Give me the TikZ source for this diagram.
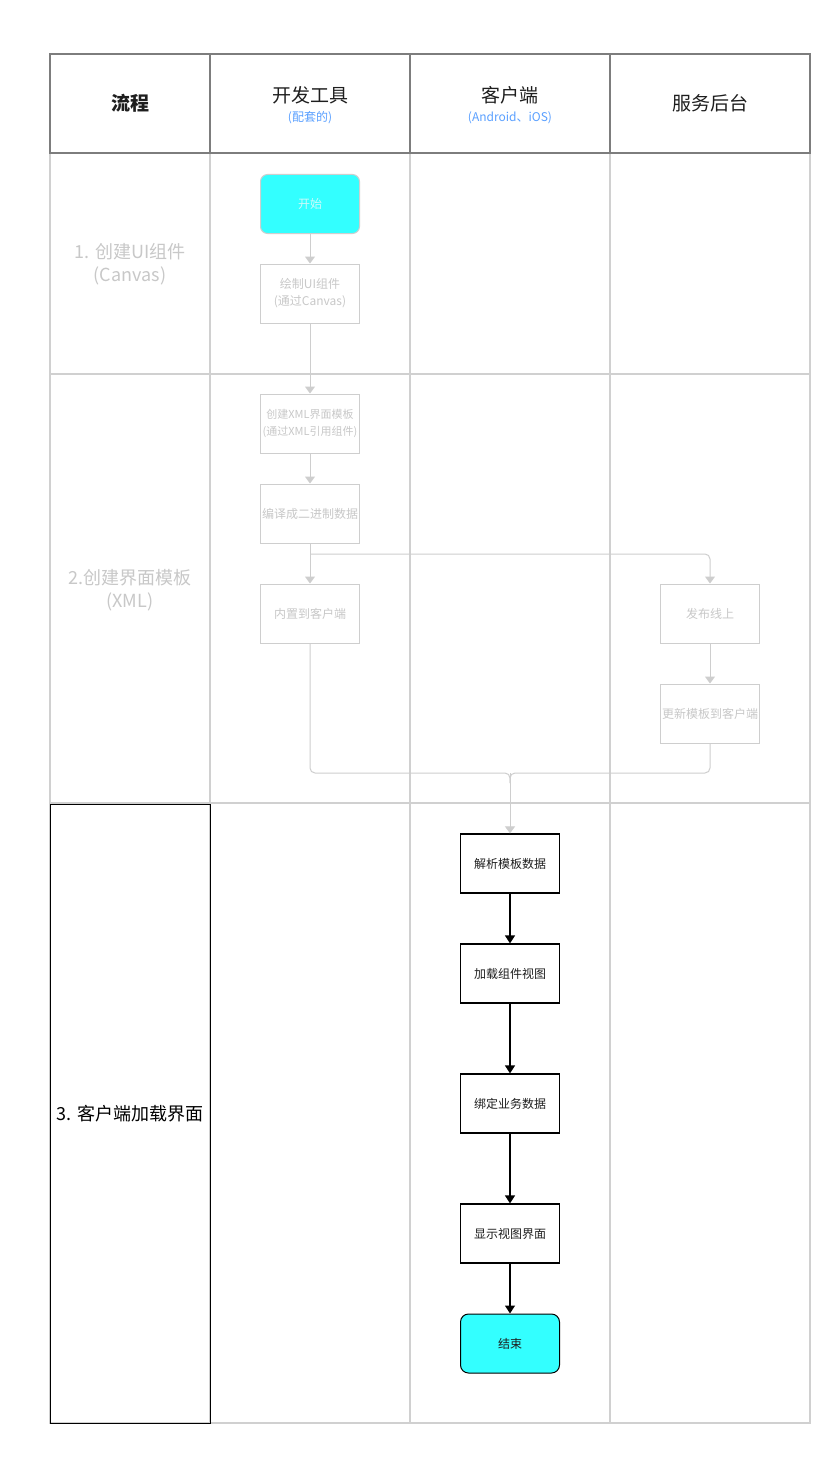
\documentclass[tikz,border=0pt]{standalone}
\usepackage{fontspec}
\setmainfont{Noto Sans CJK SC}
\usetikzlibrary{arrows.meta}
\definecolor{fade}{RGB}{206,206,206}
\definecolor{fadetext}{RGB}{200,200,200}
\definecolor{gridline}{RGB}{208,208,208}
\definecolor{hdrline}{RGB}{125,125,125}
\definecolor{cyanfill}{RGB}{51,255,255}
\definecolor{subblue}{RGB}{90,160,255}
\definecolor{hdrtext}{RGB}{30,30,30}
\definecolor{starttext}{RGB}{205,250,250}
\tikzset{
  fadebox/.style={draw=fade, line width=1pt, fill=white, minimum width=99pt, minimum height=59pt,
    inner sep=0pt, align=center, text=fadetext, font=\fontsize{12}{17}\selectfont},
  fadebox2/.style={fadebox, font=\fontsize{11}{17}\selectfont},
  startbox/.style={fadebox, rounded corners=7pt, fill=cyanfill, text=starttext, draw=fade},
  blackbox/.style={draw=black, line width=1.2pt, fill=white, minimum width=99pt, minimum height=59pt,
    inner sep=0pt, align=center, text=hdrtext, font=\fontsize{12}{14}\selectfont},
  endbox/.style={blackbox, rounded corners=8pt, fill=cyanfill, line width=1pt},
  fadearrow/.style={draw=fade, line width=1pt, -{Triangle[width=10pt,length=7pt]}},
  fadeline/.style={draw=fade, line width=1pt, rounded corners=5pt},
  blackarrow/.style={draw=black, line width=1.2pt, -{Triangle[width=10pt,length=8pt]}},
  hdr/.style={text=hdrtext, font=\fontsize{19}{22}\selectfont, inner sep=0pt},
  sub/.style={text=subblue, font=\fontsize{12}{14}\selectfont, inner sep=0pt},
  lanefade/.style={text=fadetext, font=\fontsize{18}{21}\selectfont, inner sep=0pt},
}
\begin{document}
\begin{tikzpicture}[x=1pt,y=-1pt]
\useasboundingbox[fill=white] (0,0) rectangle (830,1474);

% body grid
\draw[gridline, line width=2pt] (210,153) -- (210,1423);
\draw[gridline, line width=2pt] (410,153) -- (410,1423);
\draw[gridline, line width=2pt] (610,153) -- (610,1423);
\draw[gridline, line width=1.5pt] (50,153) -- (50,1423) -- (810,1423) -- (810,153);
\draw[gridline, line width=1.5pt] (50,374) -- (810,374);
\draw[gridline, line width=1.5pt] (50,803) -- (810,803);

% header
\draw[hdrline, line width=1.8pt] (50,54) rectangle (810,153);
\draw[hdrline, line width=1.8pt] (210,54) -- (210,153);
\draw[hdrline, line width=1.8pt] (410,54) -- (410,153);
\draw[hdrline, line width=1.8pt] (610,54) -- (610,153);

\node[hdr, font=\fontsize{19}{22}\selectfont\bfseries] (hflow) at (130,103) {流程};
\node[hdr] (htool) at (310,95) {开发工具};
\node[sub] (htoolsub) at (310,118) {(配套的)};
\node[hdr] (hclient) at (510,95) {客户端};
\node[sub] (hclientsub) at (510,118) {(Android、iOS)};
\node[hdr] (hserver) at (710,103) {服务后台};

% lane labels
\node[lanefade] (l1a) at (130,252) {1. 创建UI组件};
\node[lanefade] (l1b) at (130,276) {(Canvas)};
\node[lanefade] (l2a) at (130,578) {2.创建界面模板};
\node[lanefade] (l2b) at (130,602) {(XML)};
\draw[black, line width=1pt] (50,804) rectangle (210,1423);
\node[text=black, font=\fontsize{18}{21}\selectfont, inner sep=0pt] (l3) at (130,1114) {3. 客户端加载界面};

% faded nodes
\node[startbox] (start) at (310,204) {开始};
\node[fadebox2, font=\fontsize{12}{17}\selectfont] (draw) at (310,293.5) {绘制UI组件\\(通过Canvas)};
\node[fadebox2] (xml) at (310,423.5) {创建XML界面模板\\(通过XML引用组件)};
\node[fadebox] (compile) at (310,513.5) {编译成二进制数据};
\node[fadebox] (builtin) at (310,613.5) {内置到客户端};
\node[fadebox] (publish) at (710,613.5) {发布线上};
\node[fadebox] (update) at (710,713.5) {更新模板到客户端};

% black nodes
\node[blackbox] (parse) at (510,863.5) {解析模板数据};
\node[blackbox] (load) at (510,973.5) {加载组件视图};
\node[blackbox] (bind) at (510,1103.5) {绑定业务数据};
\node[blackbox] (show) at (510,1233.5) {显示视图界面};
\node[endbox] (end) at (510,1343.5) {结束};

% faded connectors
\coordinate (branch) at (310,554);
\coordinate (merge) at (510,773);
\draw[fadearrow] (start) -- (draw);
\draw[fadearrow] (draw) -- (xml);
\draw[fadearrow] (xml) -- (compile);
\draw[fadearrow] (compile) -- (builtin);
\draw[fadearrow, rounded corners=5pt] (branch) -| (publish.north);
\draw[fadearrow] (publish) -- (update);
\draw[fadeline] (builtin.south) |- (merge) -- ++(0,10);
\draw[fadeline] (update.south) |- (merge) -- ++(0,10);
\draw[fadearrow] (merge) -- (parse.north);

% black connectors
\draw[blackarrow] (parse) -- (load);
\draw[blackarrow] (load) -- (bind);
\draw[blackarrow] (bind) -- (show);
\draw[blackarrow] (show) -- (end);
\end{tikzpicture}
\end{document}
